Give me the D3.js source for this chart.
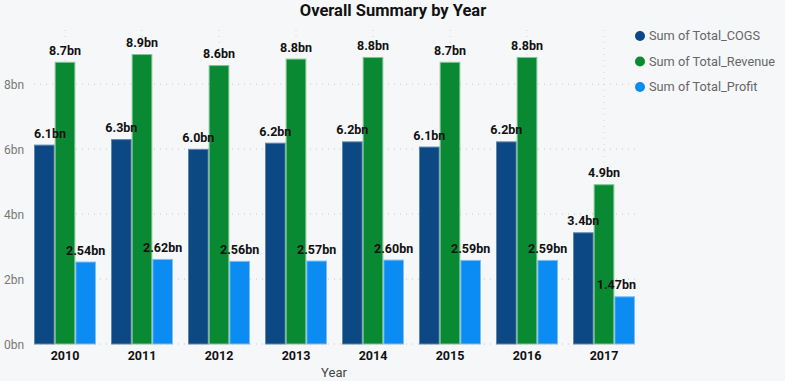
<!DOCTYPE html>
<html><head><meta charset="utf-8">
<script src="https://cdn.jsdelivr.net/npm/d3@7"></script>
<style>
html,body{margin:0;padding:0;background:#f6f7f9;}
svg{display:block;}
</style></head>
<body><svg id="c" width="785" height="381"></svg>
<script>
const years = ["2010","2011","2012","2013","2014","2015","2016","2017"];
const seriesNames = ["Sum of Total_COGS","Sum of Total_Revenue","Sum of Total_Profit"];
const cogs = [6.14, 6.31, 6.01, 6.20, 6.24, 6.08, 6.24, 3.44];
const revenue = [8.69, 8.93, 8.59, 8.79, 8.84, 8.69, 8.84, 4.92];
const profit = [2.54, 2.62, 2.56, 2.57, 2.60, 2.59, 2.59, 1.47];
const yTicks = [0, 2, 4, 6, 8];
const labelDecimals = [1, 1, 2];

const colors = ["#0c4883", "#098a32", "#0b8cf2"];
const strokes = ["#5f86ad", "#7fc396", "#7ebef5"];
const series = [cogs, revenue, profit];

const svg = d3.select("#c");
const pLeft = 34, pRight = 635, pTop = 30, pBottom = 344;

const x0 = d3.scaleBand().domain(years).range([26.5, 642.5]).paddingInner(0.195).paddingOuter(0.0975);
const x1 = d3.scaleBand().domain(d3.range(3)).range([0, x0.bandwidth()]);
const y = d3.scaleLinear().domain([0, 9.67]).range([pBottom, pTop]);

// horizontal gridlines
svg.append("g").selectAll("line").data(yTicks).join("line")
  .attr("x1", pLeft).attr("x2", pRight)
  .attr("y1", d => y(d)).attr("y2", d => y(d))
  .attr("stroke", "#c8c8c8").attr("stroke-width", 1).attr("stroke-dasharray", "1,5");
// vertical gridlines
svg.append("g").selectAll("line").data(years).join("line")
  .attr("x1", d => x0(d) + x0.bandwidth()/2).attr("x2", d => x0(d) + x0.bandwidth()/2)
  .attr("y1", pTop).attr("y2", pBottom)
  .attr("stroke", "#d4d4d4").attr("stroke-width", 1).attr("stroke-dasharray", "1,5");

// y axis
const yAxis = d3.axisLeft(y).tickValues(yTicks).tickFormat(d => d + "bn").tickSize(0);
const ya = svg.append("g").attr("transform", "translate(4,0)").call(yAxis);
ya.select(".domain").remove();
ya.selectAll("text").attr("text-anchor", "start").attr("x", 0).attr("dy", "0.35em")
  .style("font-family", "Roboto, sans-serif").style("font-size", "12px").attr("fill", "#777");

// bars
const groups = svg.append("g").selectAll("g").data(years).join("g")
  .attr("transform", d => `translate(${x0(d)},0)`);
groups.selectAll("rect").data((d, i) => series.map((s, k) => ({k, v: s[i]}))).join("rect")
  .attr("x", d => x1(d.k) + 0.5)
  .attr("width", x1.bandwidth() - 1)
  .attr("y", d => y(d.v) + 0.5)
  .attr("height", d => pBottom - y(d.v) - 0.5)
  .attr("fill", d => colors[d.k])
  .attr("stroke", d => strokes[d.k]).attr("stroke-width", 1);

// x axis
const xAxis = d3.axisBottom(x0).tickSize(0);
const xa = svg.append("g").attr("transform", `translate(0,${pBottom})`).call(xAxis);
xa.select(".domain").remove();
xa.selectAll("text").attr("y", 12).attr("dy", "0.35em")
  .style("font-family", "Roboto, sans-serif").style("font-size", "12.5px")
  .style("font-weight", "bold").attr("fill", "#111");

// data labels
const lg = svg.append("g");
years.forEach((yr, i) => {
  series.forEach((s, k) => {
    const cx = x0(yr) + x1(k) + x1.bandwidth()/2;
    const t = lg.append("text")
      .attr("y", y(s[i]) - 7)
      .attr("text-anchor", "middle")
      .style("font-family", "Roboto, sans-serif").style("font-size", "12.5px")
      .style("font-weight", "bold").attr("fill", "#111")
      .text(s[i].toFixed(labelDecimals[k]) + "bn");
    const w = t.node().getComputedTextLength();
    const px = Math.min(Math.max(cx, pLeft + w/2), pRight + 1 - w/2);
    t.attr("x", px);
  });
});

// axis title
svg.append("text").attr("x", 334).attr("y", 372.5).attr("dy", "0.35em").attr("text-anchor", "middle")
  .style("font-family", "Roboto, sans-serif").style("font-size", "13px").attr("fill", "#444").text("Year");

// chart title
svg.append("text").attr("x", 393).attr("y", 10).attr("dy", "0.35em").attr("text-anchor", "middle")
  .style("font-family", "Roboto, sans-serif").style("font-size", "16.5px").style("font-weight", "bold")
  .attr("fill", "#111").text("Overall Summary by Year");

// legend
const leg = svg.append("g").selectAll("g").data(seriesNames).join("g")
  .attr("transform", (d, i) => `translate(640,${36 + i*25.5})`);
leg.append("circle").attr("r", 5).attr("fill", (d, i) => colors[i]);
leg.append("text").attr("x", 9).attr("dy", "0.35em")
  .style("font-family", "Roboto, sans-serif").style("font-size", "12.75px").attr("fill", "#666").text(d => d);
</script></body></html>
